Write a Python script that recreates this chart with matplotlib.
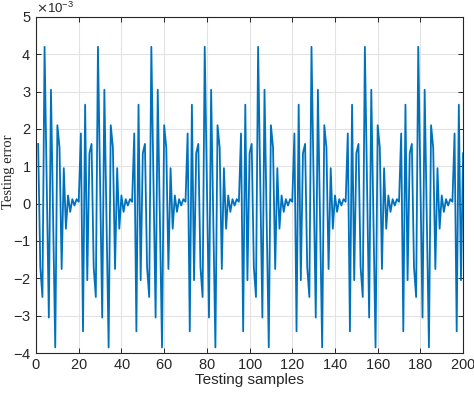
import matplotlib
matplotlib.use("Agg")
import matplotlib.pyplot as plt
from matplotlib.ticker import ScalarFormatter

# testing error, in units of 1e-3, samples 1..200
err_e3 = [
    1.60, -1.70, -2.50, 4.20, 0.60, -3.05, 3.05, -0.40, -3.85, 2.10, 1.50, -1.75, 0.95,
    -0.67, 0.22, -0.22, 0.12, -0.05, 0.12, 0.05, 1.88, -3.42, 2.65, -2.05, 1.35,
    1.60, -1.70, -2.50, 4.20, 0.60, -3.05, 3.05, -0.40, -3.85, 2.10, 1.50, -1.75, 0.95,
    -0.67, 0.22, -0.22, 0.12, -0.05, 0.12, 0.05, 1.88, -3.42, 2.65, -2.05, 1.35,
    1.60, -1.70, -2.50, 4.20, 0.60, -3.05, 3.05, -0.40, -3.85, 2.10, 1.50, -1.75, 0.95,
    -0.67, 0.22, -0.22, 0.12, -0.05, 0.12, 0.05, 1.88, -3.42, 2.65, -2.05, 1.35,
    1.60, -1.70, -2.50, 4.20, 0.60, -3.05, 3.05, -0.40, -3.85, 2.10, 1.50, -1.75, 0.95,
    -0.67, 0.22, -0.22, 0.12, -0.05, 0.12, 0.05, 1.88, -3.42, 2.65, -2.05, 1.35,
    1.60, -1.70, -2.50, 4.20, 0.60, -3.05, 3.05, -0.40, -3.85, 2.10, 1.50, -1.75, 0.95,
    -0.67, 0.22, -0.22, 0.12, -0.05, 0.12, 0.05, 1.88, -3.42, 2.65, -2.05, 1.35,
    1.60, -1.70, -2.50, 4.20, 0.60, -3.05, 3.05, -0.40, -3.85, 2.10, 1.50, -1.75, 0.95,
    -0.67, 0.22, -0.22, 0.12, -0.05, 0.12, 0.05, 1.88, -3.42, 2.65, -2.05, 1.35,
    1.60, -1.70, -2.50, 4.20, 0.60, -3.05, 3.05, -0.40, -3.85, 2.10, 1.50, -1.75, 0.95,
    -0.67, 0.22, -0.22, 0.12, -0.05, 0.12, 0.05, 1.88, -3.42, 2.65, -2.05, 1.35,
    1.60, -1.70, -2.50, 4.20, 0.60, -3.05, 3.05, -0.40, -3.85, 2.10, 1.50, -1.75, 0.95,
    -0.67, 0.22, -0.22, 0.12, -0.05, 0.12, 0.05, 1.88, -3.42, 2.65, -2.05, 1.35,
]
muestras = list(range(1, len(err_e3) + 1))
x_ticks = [0, 20, 40, 60, 80, 100, 120, 140, 160, 180, 200]
y_ticks = [-4e-3, -3e-3, -2e-3, -1e-3, 0, 1e-3, 2e-3, 3e-3, 4e-3, 5e-3]

plt.rcParams['font.family'] = ['Liberation Sans', 'DejaVu Sans']
plt.rcParams['axes.formatter.use_mathtext'] = True

fig = plt.figure(figsize=(4.74, 3.94), dpi=100)
ax = fig.add_axes([0.076, 0.104, 0.901, 0.853])

ax.plot(muestras, [v * 1e-3 for v in err_e3], color='#0072BD', linewidth=1.3)

ax.set_xlim(0, 200)
ax.set_ylim(-4e-3, 5e-3)
ax.set_xticks(x_ticks)
ax.set_yticks(y_ticks)

fmt = ScalarFormatter(useMathText=True)
fmt.set_powerlimits((-2, 2))
ax.yaxis.set_major_formatter(fmt)
ax.yaxis.get_offset_text().set_fontsize(9.5)

ax.grid(True, color='#e3e3e3', linewidth=0.8)
ax.set_axisbelow(True)
ax.tick_params(direction='in', top=True, right=True, labelsize=10.5,
               colors='#262626', length=3.5, width=0.7)
for s in ax.spines.values():
    s.set_color('#262626')
    s.set_linewidth(0.8)

ax.set_xlabel('Testing samples', fontsize=11, color='#262626', labelpad=1)
ax.set_ylabel('Testing error', fontsize=10.5, family=['Liberation Serif'],
              color='#262626')
ax.yaxis.set_label_coords(-0.05, 0.54)

fig.savefig('out.png', dpi=100)
